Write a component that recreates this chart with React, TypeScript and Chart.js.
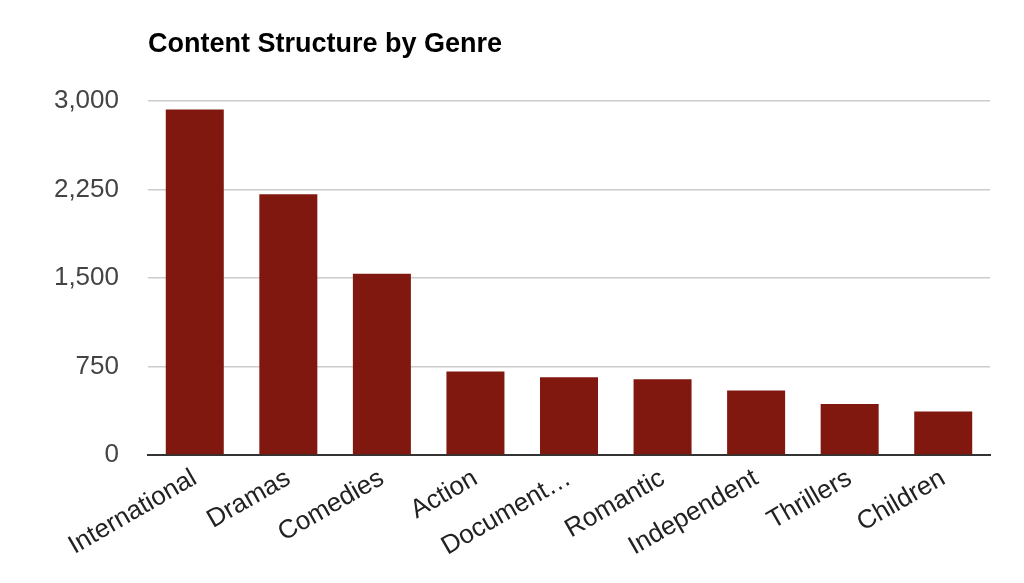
import React, { useRef, useEffect } from 'react';
import { Chart, registerables, Plugin } from 'chart.js';

Chart.register(...registerables);

const title = 'Content Structure by Genre';
const genres = [
	'International', 'Dramas', 'Comedies', 'Action', 'Documentaries',
	'Romantic', 'Independent', 'Thrillers', 'Children'
];
const genreLabels = [
	'International', 'Dramas', 'Comedies', 'Action', 'Document…',
	'Romantic', 'Independent', 'Thrillers', 'Children'
];
const titleCounts = [2927, 2209, 1537, 707, 658, 641, 546, 432, 368];
const yTicks = [0, 750, 1500, 2250, 3000];

const FONT = '"Liberation Sans", Arial, sans-serif';

// title drawn left-aligned with the plot area, like the original
const titlePlugin: Plugin<'bar'> = {
	id: 'plotTitle',
	afterDraw(chart) {
		const { ctx, chartArea } = chart;
		ctx.save();
		ctx.font = `bold 27px ${FONT}`;
		ctx.fillStyle = '#000';
		ctx.textAlign = 'left';
		ctx.textBaseline = 'middle';
		ctx.fillText(title, chartArea.left, 45);
		ctx.restore();
	}
};

const GenreChart: React.FC = () => {
	const chartRef = useRef<HTMLCanvasElement>(null);
	const chartInstance = useRef<Chart | null>(null);

	useEffect(() => {
		const ctx = chartRef.current?.getContext('2d');
		if (ctx) {
			chartInstance.current = new Chart(ctx, {
				type: 'bar',
				data: {
					labels: genres,
					datasets: [{
						label: 'Titles',
						data: titleCounts,
						backgroundColor: '#80180f',
						categoryPercentage: 0.62,
						barPercentage: 1
					}]
				},
				plugins: [titlePlugin],
				options: {
					animation: false,
					responsive: false,
					layout: { padding: { top: 101, right: 34, bottom: 0, left: 0 } },
					plugins: {
						legend: { display: false },
						tooltip: { enabled: false }
					},
					scales: {
						x: {
							afterFit: (scale) => { scale.height = 128; },
							grid: { display: false, drawTicks: false },
							border: { color: '#333', width: 2 },
							ticks: {
								minRotation: 30,
								maxRotation: 30,
								padding: 8,
								color: '#222',
								font: { family: FONT, size: 26 },
								callback: (_v, i) => genreLabels[i]
							}
						},
						y: {
							min: 0,
							max: 3000,
							afterFit: (scale) => { scale.width = 148; },
							afterBuildTicks: (scale) => { scale.ticks = yTicks.map(v => ({ value: v })); },
							grid: { color: '#ccc', lineWidth: 1.5, drawTicks: false },
							border: { display: false },
							ticks: {
								padding: 29,
								color: '#444',
								font: { family: FONT, size: 26 },
								callback: (v) => Number(v).toLocaleString('en-US')
							}
						}
					}
				}
			});
		}

		return () => {
			chartInstance.current?.destroy();
		};
	}, []);

	return <canvas ref={chartRef} width={1024} height={583} />;
};

export default function App() {
	return (
		<div style={{ position: 'fixed', left: 0, top: 0, width: 1024, height: 583, background: '#fff' }}>
			<GenreChart />
		</div>
	);
}
